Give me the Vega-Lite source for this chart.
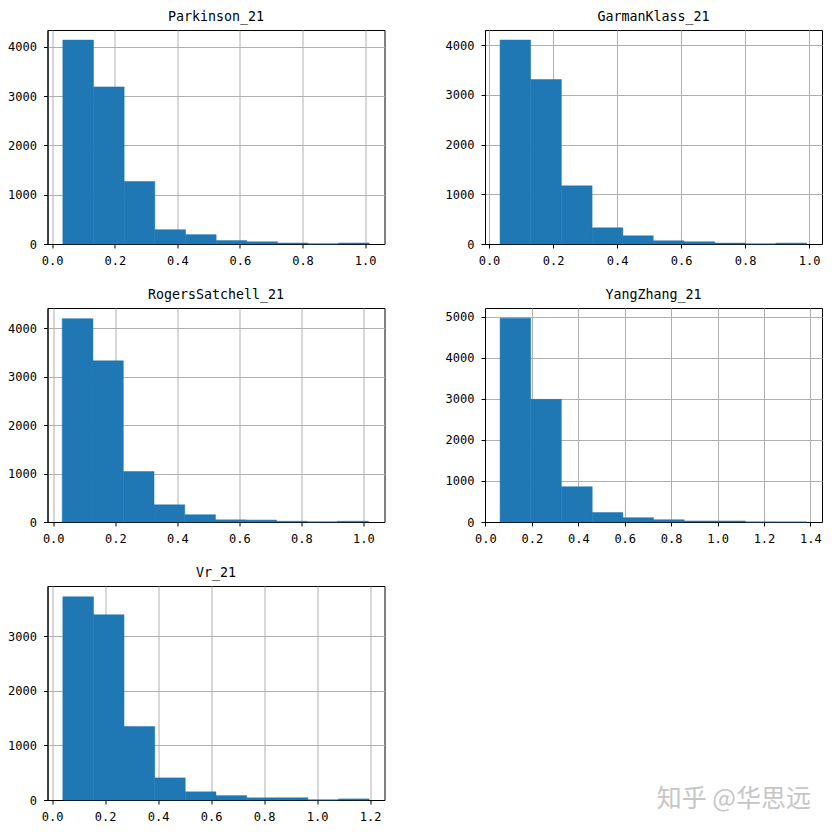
{
  "$schema": "https://vega.github.io/schema/vega-lite/v6.json",
  "background": "white",
  "padding": {"left": 6.5, "top": 9, "right": 5, "bottom": 5},
  "data": {
    "values": [
      {"panel": "Parkinson_21", "x0": 0.034, "x1": 0.132, "count": 4140},
      {"panel": "Parkinson_21", "x0": 0.132, "x1": 0.230, "count": 3190},
      {"panel": "Parkinson_21", "x0": 0.230, "x1": 0.328, "count": 1270},
      {"panel": "Parkinson_21", "x0": 0.328, "x1": 0.426, "count": 290},
      {"panel": "Parkinson_21", "x0": 0.426, "x1": 0.524, "count": 190},
      {"panel": "Parkinson_21", "x0": 0.524, "x1": 0.622, "count": 70},
      {"panel": "Parkinson_21", "x0": 0.622, "x1": 0.720, "count": 45},
      {"panel": "Parkinson_21", "x0": 0.720, "x1": 0.817, "count": 20},
      {"panel": "Parkinson_21", "x0": 0.817, "x1": 0.915, "count": 3},
      {"panel": "Parkinson_21", "x0": 0.915, "x1": 1.013, "count": 20},
      {"panel": "GarmanKlass_21", "x0": 0.0345, "x1": 0.130, "count": 4105},
      {"panel": "GarmanKlass_21", "x0": 0.130, "x1": 0.226, "count": 3310},
      {"panel": "GarmanKlass_21", "x0": 0.226, "x1": 0.322, "count": 1170},
      {"panel": "GarmanKlass_21", "x0": 0.322, "x1": 0.418, "count": 325},
      {"panel": "GarmanKlass_21", "x0": 0.418, "x1": 0.513, "count": 165},
      {"panel": "GarmanKlass_21", "x0": 0.513, "x1": 0.609, "count": 65},
      {"panel": "GarmanKlass_21", "x0": 0.609, "x1": 0.705, "count": 45},
      {"panel": "GarmanKlass_21", "x0": 0.705, "x1": 0.801, "count": 18},
      {"panel": "GarmanKlass_21", "x0": 0.801, "x1": 0.896, "count": 3},
      {"panel": "GarmanKlass_21", "x0": 0.896, "x1": 0.992, "count": 18},
      {"panel": "RogersSatchell_21", "x0": 0.029, "x1": 0.128, "count": 4195},
      {"panel": "RogersSatchell_21", "x0": 0.128, "x1": 0.226, "count": 3325},
      {"panel": "RogersSatchell_21", "x0": 0.226, "x1": 0.325, "count": 1040},
      {"panel": "RogersSatchell_21", "x0": 0.325, "x1": 0.424, "count": 355},
      {"panel": "RogersSatchell_21", "x0": 0.424, "x1": 0.523, "count": 150},
      {"panel": "RogersSatchell_21", "x0": 0.523, "x1": 0.621, "count": 45},
      {"panel": "RogersSatchell_21", "x0": 0.621, "x1": 0.720, "count": 40},
      {"panel": "RogersSatchell_21", "x0": 0.720, "x1": 0.819, "count": 15},
      {"panel": "RogersSatchell_21", "x0": 0.819, "x1": 0.917, "count": 3},
      {"panel": "RogersSatchell_21", "x0": 0.917, "x1": 1.016, "count": 15},
      {"panel": "YangZhang_21", "x0": 0.063, "x1": 0.195, "count": 4970},
      {"panel": "YangZhang_21", "x0": 0.195, "x1": 0.327, "count": 2990},
      {"panel": "YangZhang_21", "x0": 0.327, "x1": 0.460, "count": 860},
      {"panel": "YangZhang_21", "x0": 0.460, "x1": 0.592, "count": 230},
      {"panel": "YangZhang_21", "x0": 0.592, "x1": 0.724, "count": 105},
      {"panel": "YangZhang_21", "x0": 0.724, "x1": 0.856, "count": 55},
      {"panel": "YangZhang_21", "x0": 0.856, "x1": 0.988, "count": 25},
      {"panel": "YangZhang_21", "x0": 0.988, "x1": 1.120, "count": 25},
      {"panel": "YangZhang_21", "x0": 1.120, "x1": 1.253, "count": 2},
      {"panel": "YangZhang_21", "x0": 1.253, "x1": 1.385, "count": 1},
      {"panel": "Vr_21", "x0": 0.040, "x1": 0.156, "count": 3725},
      {"panel": "Vr_21", "x0": 0.156, "x1": 0.271, "count": 3395},
      {"panel": "Vr_21", "x0": 0.271, "x1": 0.387, "count": 1345},
      {"panel": "Vr_21", "x0": 0.387, "x1": 0.502, "count": 405},
      {"panel": "Vr_21", "x0": 0.502, "x1": 0.618, "count": 150},
      {"panel": "Vr_21", "x0": 0.618, "x1": 0.734, "count": 80},
      {"panel": "Vr_21", "x0": 0.734, "x1": 0.849, "count": 40},
      {"panel": "Vr_21", "x0": 0.849, "x1": 0.965, "count": 40},
      {"panel": "Vr_21", "x0": 0.965, "x1": 1.080, "count": 3},
      {"panel": "Vr_21", "x0": 1.080, "x1": 1.196, "count": 20}
    ]
  },
  "columns": 2,
  "bounds": "flush",
  "spacing": {"row": 64, "column": 100.5},
  "concat": [
    {
      "title": "Parkinson_21",
      "width": 337,
      "height": 214,
      "transform": [{"filter": "datum.panel == 'Parkinson_21'"}],
      "mark": {"type": "rect", "color": "#1f77b4", "stroke": "#1f77b4", "strokeWidth": 0.5},
      "encoding": {
        "x": {"field": "x0", "type": "quantitative", "title": null, "scale": {"domain": [-0.015, 1.062], "nice": false, "zero": false}, "axis": {"values": [0, 0.2, 0.4, 0.6, 0.8, 1.0], "format": ".1f"}},
        "x2": {"field": "x1"},
        "y": {"field": "count", "type": "quantitative", "title": null, "scale": {"domain": [0, 4345], "nice": false}, "axis": {"values": [0, 1000, 2000, 3000, 4000], "format": "d"}},
        "y2": {"datum": 0}
      }
    },
    {
      "title": "GarmanKlass_21",
      "width": 337,
      "height": 214,
      "transform": [{"filter": "datum.panel == 'GarmanKlass_21'"}],
      "mark": {"type": "rect", "color": "#1f77b4", "stroke": "#1f77b4", "strokeWidth": 0.5},
      "encoding": {
        "x": {"field": "x0", "type": "quantitative", "title": null, "scale": {"domain": [-0.0125, 1.04], "nice": false, "zero": false}, "axis": {"values": [0, 0.2, 0.4, 0.6, 0.8, 1.0], "format": ".1f"}},
        "x2": {"field": "x1"},
        "y": {"field": "count", "type": "quantitative", "title": null, "scale": {"domain": [0, 4307], "nice": false}, "axis": {"values": [0, 1000, 2000, 3000, 4000], "format": "d"}},
        "y2": {"datum": 0}
      }
    },
    {
      "title": "RogersSatchell_21",
      "width": 337,
      "height": 214,
      "transform": [{"filter": "datum.panel == 'RogersSatchell_21'"}],
      "mark": {"type": "rect", "color": "#1f77b4", "stroke": "#1f77b4", "strokeWidth": 0.5},
      "encoding": {
        "x": {"field": "x0", "type": "quantitative", "title": null, "scale": {"domain": [-0.0185, 1.068], "nice": false, "zero": false}, "axis": {"values": [0, 0.2, 0.4, 0.6, 0.8, 1.0], "format": ".1f"}},
        "x2": {"field": "x1"},
        "y": {"field": "count", "type": "quantitative", "title": null, "scale": {"domain": [0, 4415], "nice": false}, "axis": {"values": [0, 1000, 2000, 3000, 4000], "format": "d"}},
        "y2": {"datum": 0}
      }
    },
    {
      "title": "YangZhang_21",
      "width": 337,
      "height": 214,
      "transform": [{"filter": "datum.panel == 'YangZhang_21'"}],
      "mark": {"type": "rect", "color": "#1f77b4", "stroke": "#1f77b4", "strokeWidth": 0.5},
      "encoding": {
        "x": {"field": "x0", "type": "quantitative", "title": null, "scale": {"domain": [-0.002, 1.45], "nice": false, "zero": false}, "axis": {"values": [0, 0.2, 0.4, 0.6, 0.8, 1.0, 1.2, 1.4], "format": ".1f"}},
        "x2": {"field": "x1"},
        "y": {"field": "count", "type": "quantitative", "title": null, "scale": {"domain": [0, 5218], "nice": false}, "axis": {"values": [0, 1000, 2000, 3000, 4000, 5000], "format": "d"}},
        "y2": {"datum": 0}
      }
    },
    {
      "title": "Vr_21",
      "width": 337,
      "height": 214,
      "transform": [{"filter": "datum.panel == 'Vr_21'"}],
      "mark": {"type": "rect", "color": "#1f77b4", "stroke": "#1f77b4", "strokeWidth": 0.5},
      "encoding": {
        "x": {"field": "x0", "type": "quantitative", "title": null, "scale": {"domain": [-0.0178, 1.254], "nice": false, "zero": false}, "axis": {"values": [0, 0.2, 0.4, 0.6, 0.8, 1.0, 1.2], "format": ".1f"}},
        "x2": {"field": "x1"},
        "y": {"field": "count", "type": "quantitative", "title": null, "scale": {"domain": [0, 3922], "nice": false}, "axis": {"values": [0, 1000, 2000, 3000], "format": "d"}},
        "y2": {"datum": 0}
      }
    },
    {
      "title": {
        "text": "知乎 @华思远",
        "orient": "bottom",
        "anchor": "end",
        "frame": "group",
        "font": "Noto Sans CJK SC",
        "fontSize": 25,
        "fontWeight": "normal",
        "color": "#c6c6c6",
        "offset": -13,
        "dx": -11
      },
      "width": 337,
      "height": 214,
      "view": {"stroke": null},
      "data": {"values": []},
      "mark": "point"
    }
  ],
  "config": {
    "view": {"stroke": "#000000", "strokeWidth": 1},
    "title": {"font": "DejaVu Sans Mono", "fontSize": 13.3, "fontWeight": "normal", "color": "#000000", "offset": 7, "anchor": "middle"},
    "axis": {
      "zindex": 1,
      "grid": true,
      "gridColor": "#b0b0b0",
      "gridWidth": 1,
      "gridOpacity": 1,
      "domainColor": "#000000",
      "domainWidth": 1,
      "tickColor": "#000000",
      "tickWidth": 1,
      "tickSize": 4,
      "labelFont": "DejaVu Sans Mono",
      "labelFontSize": 12,
      "labelColor": "#000000",
      "labelOverlap": false,
      "labelFlush": false
    },
    "axisX": {"labelPadding": 7},
    "axisY": {"labelPadding": 7}
  }
}
